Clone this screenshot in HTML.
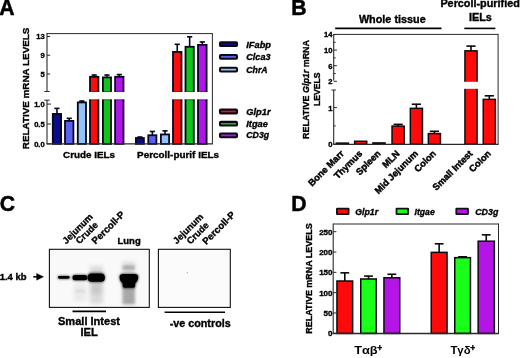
<!DOCTYPE html>
<html><head><meta charset="utf-8"><title>Figure</title>
<style>html,body{margin:0;padding:0;background:#fff;overflow:hidden}svg{display:block;filter:blur(0.3px);font-family:"Liberation Sans",Arial,sans-serif}</style>
</head><body>
<svg width="520" height="358" viewBox="0 0 520 358">
<rect width="520" height="358" fill="#fff"/>
<text x="-0.7" y="14.9" font-size="21.2" text-anchor="start" fill="#000" font-weight="bold" stroke="#000" stroke-width="0.5" >A</text>
<text x="28.7" y="149.2" font-size="9.85" text-anchor="start" fill="#000" font-weight="bold" textLength="121.6" lengthAdjust="spacingAndGlyphs" transform="rotate(-90 28.7 149.2)" stroke="#000" stroke-width="0.35" >RELATIVE mRNA LEVELS</text>
<line x1="56.95" y1="108.08000000000001" x2="56.95" y2="114.055" stroke="#07071c" stroke-width="1.6" stroke-linecap="butt"/>
<line x1="54.35" y1="108.38000000000001" x2="59.550000000000004" y2="108.38000000000001" stroke="#07071c" stroke-width="1.6" stroke-linecap="butt"/>
<rect x="52.8" y="113.95500000000001" width="8.3" height="29.945" fill="#0c0c88" stroke="#07071c" stroke-width="1.8" rx="0" />
<line x1="69.19999999999999" y1="118.03" x2="69.19999999999999" y2="121.02000000000001" stroke="#07071c" stroke-width="1.6" stroke-linecap="butt"/>
<line x1="66.6" y1="118.33" x2="71.79999999999998" y2="118.33" stroke="#07071c" stroke-width="1.6" stroke-linecap="butt"/>
<rect x="65.0" y="120.92000000000002" width="8.400000000000002" height="22.979999999999997" fill="#5c60ee" stroke="#07071c" stroke-width="1.8" rx="0" />
<line x1="81.9" y1="100.71700000000001" x2="81.9" y2="102.513" stroke="#07071c" stroke-width="1.6" stroke-linecap="butt"/>
<line x1="79.30000000000001" y1="101.01700000000001" x2="84.5" y2="101.01700000000001" stroke="#07071c" stroke-width="1.6" stroke-linecap="butt"/>
<rect x="77.80000000000001" y="102.41300000000001" width="8.2" height="41.487" fill="#94c2f8" stroke="#07071c" stroke-width="1.8" rx="0" />
<line x1="94.19999999999999" y1="74.7235" x2="94.19999999999999" y2="76.89600000000002" stroke="#07071c" stroke-width="1.6" stroke-linecap="butt"/>
<line x1="91.6" y1="75.0235" x2="96.79999999999998" y2="75.0235" stroke="#07071c" stroke-width="1.6" stroke-linecap="butt"/>
<rect x="90.0" y="76.79600000000002" width="8.400000000000002" height="67.10399999999998" fill="#fa0d0d" stroke="#07071c" stroke-width="1.8" rx="0" />
<line x1="106.95" y1="74.7235" x2="106.95" y2="77.50570000000002" stroke="#07071c" stroke-width="1.6" stroke-linecap="butt"/>
<line x1="104.35000000000001" y1="75.0235" x2="109.55" y2="75.0235" stroke="#07071c" stroke-width="1.6" stroke-linecap="butt"/>
<rect x="102.9" y="77.40570000000002" width="8.100000000000005" height="66.49429999999998" fill="#10c41a" stroke="#07071c" stroke-width="1.8" rx="0" />
<line x1="119.30000000000001" y1="74.25450000000001" x2="119.30000000000001" y2="76.89600000000002" stroke="#07071c" stroke-width="1.6" stroke-linecap="butt"/>
<line x1="116.70000000000002" y1="74.5545" x2="121.9" y2="74.5545" stroke="#07071c" stroke-width="1.6" stroke-linecap="butt"/>
<rect x="115.10000000000001" y="76.79600000000002" width="8.400000000000002" height="67.10399999999998" fill="#ae16e8" stroke="#07071c" stroke-width="1.8" rx="0" />
<line x1="139.9" y1="136.73600000000002" x2="139.9" y2="138.13400000000001" stroke="#07071c" stroke-width="1.6" stroke-linecap="butt"/>
<line x1="137.3" y1="137.03600000000003" x2="142.5" y2="137.03600000000003" stroke="#07071c" stroke-width="1.6" stroke-linecap="butt"/>
<rect x="135.9" y="138.03400000000002" width="8.00000000000001" height="5.865999999999991" fill="#0c0c88" stroke="#07071c" stroke-width="1.8" rx="0" />
<line x1="152.35000000000002" y1="131.16400000000002" x2="152.35000000000002" y2="135.348" stroke="#07071c" stroke-width="1.6" stroke-linecap="butt"/>
<line x1="149.75000000000003" y1="131.46400000000003" x2="154.95000000000002" y2="131.46400000000003" stroke="#07071c" stroke-width="1.6" stroke-linecap="butt"/>
<rect x="148.3" y="135.24800000000002" width="8.100000000000005" height="8.651999999999992" fill="#5c60ee" stroke="#07071c" stroke-width="1.8" rx="0" />
<line x1="165.0" y1="130.567" x2="165.0" y2="134.55200000000002" stroke="#07071c" stroke-width="1.6" stroke-linecap="butt"/>
<line x1="162.4" y1="130.86700000000002" x2="167.6" y2="130.86700000000002" stroke="#07071c" stroke-width="1.6" stroke-linecap="butt"/>
<rect x="160.9" y="134.45200000000003" width="8.2" height="9.447999999999984" fill="#94c2f8" stroke="#07071c" stroke-width="1.8" rx="0" />
<line x1="177.25" y1="44.004" x2="177.25" y2="52.039" stroke="#07071c" stroke-width="1.6" stroke-linecap="butt"/>
<line x1="174.65" y1="44.303999999999995" x2="179.85" y2="44.303999999999995" stroke="#07071c" stroke-width="1.6" stroke-linecap="butt"/>
<rect x="173.0" y="51.939" width="8.50000000000001" height="91.961" fill="#fa0d0d" stroke="#07071c" stroke-width="1.8" rx="0" />
<line x1="189.64999999999998" y1="36.5" x2="189.64999999999998" y2="46.88" stroke="#07071c" stroke-width="1.6" stroke-linecap="butt"/>
<line x1="187.04999999999998" y1="36.8" x2="192.24999999999997" y2="36.8" stroke="#07071c" stroke-width="1.6" stroke-linecap="butt"/>
<rect x="185.5" y="46.78" width="8.299999999999994" height="97.12" fill="#10c41a" stroke="#07071c" stroke-width="1.8" rx="0" />
<line x1="202.3" y1="41.659" x2="202.3" y2="45.004" stroke="#07071c" stroke-width="1.6" stroke-linecap="butt"/>
<line x1="199.70000000000002" y1="41.958999999999996" x2="204.9" y2="41.958999999999996" stroke="#07071c" stroke-width="1.6" stroke-linecap="butt"/>
<rect x="198.0" y="44.903999999999996" width="8.600000000000005" height="98.99600000000001" fill="#ae16e8" stroke="#07071c" stroke-width="1.8" rx="0" />
<rect x="50" y="91.8" width="161.5" height="7.7" fill="#fff" stroke="none" stroke-width="0" rx="0" />
<line x1="89.1" y1="91.5" x2="99.3" y2="91.5" stroke="#07071c" stroke-width="0.7" opacity="0.7"/>
<line x1="89.1" y1="99.8" x2="99.3" y2="99.8" stroke="#07071c" stroke-width="0.7" opacity="0.7"/>
<line x1="102" y1="91.5" x2="111.9" y2="91.5" stroke="#07071c" stroke-width="0.7" opacity="0.7"/>
<line x1="102" y1="99.8" x2="111.9" y2="99.8" stroke="#07071c" stroke-width="0.7" opacity="0.7"/>
<line x1="114.2" y1="91.5" x2="124.4" y2="91.5" stroke="#07071c" stroke-width="0.7" opacity="0.7"/>
<line x1="114.2" y1="99.8" x2="124.4" y2="99.8" stroke="#07071c" stroke-width="0.7" opacity="0.7"/>
<line x1="172.1" y1="91.5" x2="182.4" y2="91.5" stroke="#07071c" stroke-width="0.7" opacity="0.7"/>
<line x1="172.1" y1="99.8" x2="182.4" y2="99.8" stroke="#07071c" stroke-width="0.7" opacity="0.7"/>
<line x1="184.6" y1="91.5" x2="194.7" y2="91.5" stroke="#07071c" stroke-width="0.7" opacity="0.7"/>
<line x1="184.6" y1="99.8" x2="194.7" y2="99.8" stroke="#07071c" stroke-width="0.7" opacity="0.7"/>
<line x1="197.1" y1="91.5" x2="207.5" y2="91.5" stroke="#07071c" stroke-width="0.7" opacity="0.7"/>
<line x1="197.1" y1="99.8" x2="207.5" y2="99.8" stroke="#07071c" stroke-width="0.7" opacity="0.7"/>
<line x1="47.0" y1="33.6" x2="212.4" y2="33.6" stroke="#2a2a2a" stroke-width="1" stroke-linecap="butt"/>
<line x1="212.4" y1="33.1" x2="212.4" y2="143.9" stroke="#2a2a2a" stroke-width="1" stroke-linecap="butt"/>
<line x1="47.0" y1="33.1" x2="47.0" y2="91.5" stroke="#2a2a2a" stroke-width="1.1" stroke-linecap="butt"/>
<line x1="47.0" y1="100.1" x2="47.0" y2="143.9" stroke="#2a2a2a" stroke-width="1.1" stroke-linecap="butt"/>
<line x1="46.5" y1="143.9" x2="212.9" y2="143.9" stroke="#2a2a2a" stroke-width="1.2" stroke-linecap="butt"/>
<line x1="47.0" y1="36.5" x2="50.2" y2="36.5" stroke="#2a2a2a" stroke-width="1" stroke-linecap="butt"/>
<text x="44.7" y="39.2" font-size="7.6" text-anchor="end" fill="#000" font-weight="bold" stroke="#000" stroke-width="0.35" >13</text>
<line x1="47.0" y1="55.260000000000005" x2="50.2" y2="55.260000000000005" stroke="#2a2a2a" stroke-width="1" stroke-linecap="butt"/>
<text x="44.7" y="57.96000000000001" font-size="7.6" text-anchor="end" fill="#000" font-weight="bold" stroke="#000" stroke-width="0.35" >9</text>
<line x1="47.0" y1="74.02000000000001" x2="50.2" y2="74.02000000000001" stroke="#2a2a2a" stroke-width="1" stroke-linecap="butt"/>
<text x="44.7" y="76.72000000000001" font-size="7.6" text-anchor="end" fill="#000" font-weight="bold" stroke="#000" stroke-width="0.35" >5</text>
<line x1="44.3" y1="91.5" x2="49.7" y2="91.5" stroke="#2a2a2a" stroke-width="1" stroke-linecap="butt"/>
<line x1="44.3" y1="100.2" x2="49.7" y2="100.2" stroke="#2a2a2a" stroke-width="1" stroke-linecap="butt"/>
<line x1="47.0" y1="104.10000000000001" x2="51.0" y2="104.10000000000001" stroke="#2a2a2a" stroke-width="1" stroke-linecap="butt"/>
<text x="44.7" y="106.7" font-size="7.6" text-anchor="end" fill="#000" font-weight="bold" stroke="#000" stroke-width="0.35" >1.0</text>
<line x1="47.0" y1="124.0" x2="51.0" y2="124.0" stroke="#2a2a2a" stroke-width="1" stroke-linecap="butt"/>
<text x="44.7" y="126.6" font-size="7.6" text-anchor="end" fill="#000" font-weight="bold" stroke="#000" stroke-width="0.35" >0.5</text>
<line x1="47.0" y1="143.9" x2="51.0" y2="143.9" stroke="#2a2a2a" stroke-width="1" stroke-linecap="butt"/>
<text x="44.7" y="146.5" font-size="7.6" text-anchor="end" fill="#000" font-weight="bold" stroke="#000" stroke-width="0.35" >0.0</text>
<text x="63.1" y="158" font-size="9.7" text-anchor="start" fill="#000" font-weight="bold" textLength="52" lengthAdjust="spacingAndGlyphs" stroke="#000" stroke-width="0.35" >Crude IELs</text>
<text x="137.1" y="157.9" font-size="9.7" text-anchor="start" fill="#000" font-weight="bold" textLength="82" lengthAdjust="spacingAndGlyphs" stroke="#000" stroke-width="0.35" >Percoll-purif IELs</text>
<rect x="220" y="42.35" width="17" height="3.7" fill="#0c0c88" stroke="#0a0a14" stroke-width="2.1" rx="0.9" />
<text x="246.3" y="47.7" font-size="9" text-anchor="start" fill="#000" font-weight="bold" font-style="italic" textLength="24.6" lengthAdjust="spacingAndGlyphs" stroke="#000" stroke-width="0.35" >IFabp</text>
<rect x="220" y="55.05" width="17" height="3.7" fill="#5c60ee" stroke="#0a0a14" stroke-width="2.1" rx="0.9" />
<text x="246.3" y="60.2" font-size="9" text-anchor="start" fill="#000" font-weight="bold" font-style="italic" textLength="24.2" lengthAdjust="spacingAndGlyphs" stroke="#000" stroke-width="0.35" >Clca3</text>
<rect x="220" y="67.75" width="17" height="3.7" fill="#94c2f8" stroke="#0a0a14" stroke-width="2.1" rx="0.9" />
<text x="246.3" y="72.9" font-size="9" text-anchor="start" fill="#000" font-weight="bold" font-style="italic" textLength="21.4" lengthAdjust="spacingAndGlyphs" stroke="#000" stroke-width="0.35" >ChrA</text>
<rect x="220" y="109.65" width="17" height="3.7" fill="#fa0d0d" stroke="#0a0a14" stroke-width="2.1" rx="0.9" />
<text x="246.3" y="115.1" font-size="9" text-anchor="start" fill="#000" font-weight="bold" font-style="italic" textLength="24.2" lengthAdjust="spacingAndGlyphs" stroke="#000" stroke-width="0.35" >Glp1r</text>
<rect x="220" y="121.85000000000001" width="17" height="3.7" fill="#10c41a" stroke="#0a0a14" stroke-width="2.1" rx="0.9" />
<text x="246.3" y="127" font-size="9" text-anchor="start" fill="#000" font-weight="bold" font-style="italic" textLength="21.6" lengthAdjust="spacingAndGlyphs" stroke="#000" stroke-width="0.35" >Itgae</text>
<rect x="220" y="133.55" width="17" height="3.7" fill="#ae16e8" stroke="#0a0a14" stroke-width="2.1" rx="0.9" />
<text x="246.3" y="138.4" font-size="9" text-anchor="start" fill="#000" font-weight="bold" font-style="italic" textLength="22.8" lengthAdjust="spacingAndGlyphs" stroke="#000" stroke-width="0.35" >CD3g</text>
<text x="291.3" y="14.7" font-size="21.2" text-anchor="start" fill="#000" font-weight="bold" stroke="#000" stroke-width="0.5" >B</text>
<text x="358.9" y="22.6" font-size="10.4" text-anchor="start" fill="#000" font-weight="bold" textLength="66.8" lengthAdjust="spacingAndGlyphs" stroke="#000" stroke-width="0.35" >Whole tissue</text>
<text x="440.4" y="7.3" font-size="10.4" text-anchor="start" fill="#000" font-weight="bold" textLength="79.4" lengthAdjust="spacingAndGlyphs" stroke="#000" stroke-width="0.35" >Percoll-purified</text>
<text x="469" y="21" font-size="10.4" text-anchor="start" fill="#000" font-weight="bold" textLength="22.9" lengthAdjust="spacingAndGlyphs" stroke="#000" stroke-width="0.35" >IELs</text>
<line x1="335.2" y1="28.4" x2="441.5" y2="28.4" stroke="#000" stroke-width="1.6" stroke-linecap="butt"/>
<line x1="464.3" y1="28.4" x2="495.4" y2="28.4" stroke="#000" stroke-width="1.6" stroke-linecap="butt"/>
<text x="309.5" y="138.9" font-size="9.1" text-anchor="start" fill="#000" font-weight="bold" textLength="98.9" lengthAdjust="spacingAndGlyphs" transform="rotate(-90 309.5 138.9)" stroke="#000" stroke-width="0.35" >RELATIVE <tspan font-style="italic">Glp1r</tspan> mRNA</text>
<text x="320.1" y="106.1" font-size="9.1" text-anchor="start" fill="#000" font-weight="bold" textLength="33.5" lengthAdjust="spacingAndGlyphs" transform="rotate(-90 320.1 106.1)" stroke="#000" stroke-width="0.35" >LEVELS</text>
<rect x="336.32500000000005" y="143.09499999999997" width="12.150000000000023" height="1.1050000000000408" fill="#ff0a0a" stroke="#0a0a0a" stroke-width="1.45" rx="0" />
<rect x="354.625" y="141.265" width="12.150000000000023" height="2.935000000000025" fill="#ff0a0a" stroke="#0a0a0a" stroke-width="1.45" rx="0" />
<rect x="372.925" y="142.91199999999998" width="12.150000000000023" height="1.2880000000000336" fill="#ff0a0a" stroke="#0a0a0a" stroke-width="1.45" rx="0" />
<line x1="398.1" y1="124.07" x2="398.1" y2="126.35099999999998" stroke="#0a0a0a" stroke-width="1.6" stroke-linecap="butt"/>
<line x1="393.5" y1="124.36999999999999" x2="402.70000000000005" y2="124.36999999999999" stroke="#0a0a0a" stroke-width="1.6" stroke-linecap="butt"/>
<rect x="392.02500000000003" y="126.07599999999998" width="12.150000000000023" height="18.12400000000003" fill="#ff0a0a" stroke="#0a0a0a" stroke-width="1.45" rx="0" />
<line x1="416.40000000000003" y1="103.93999999999998" x2="416.40000000000003" y2="108.6" stroke="#0a0a0a" stroke-width="1.6" stroke-linecap="butt"/>
<line x1="411.8" y1="104.23999999999998" x2="421.00000000000006" y2="104.23999999999998" stroke="#0a0a0a" stroke-width="1.6" stroke-linecap="butt"/>
<rect x="410.32500000000005" y="108.32499999999999" width="12.150000000000023" height="35.87500000000002" fill="#ff0a0a" stroke="#0a0a0a" stroke-width="1.45" rx="0" />
<line x1="434.40000000000003" y1="131.024" x2="434.40000000000003" y2="133.85399999999998" stroke="#0a0a0a" stroke-width="1.6" stroke-linecap="butt"/>
<line x1="429.8" y1="131.324" x2="439.00000000000006" y2="131.324" stroke="#0a0a0a" stroke-width="1.6" stroke-linecap="butt"/>
<rect x="428.32500000000005" y="133.57899999999998" width="12.150000000000023" height="10.621000000000032" fill="#ff0a0a" stroke="#0a0a0a" stroke-width="1.45" rx="0" />
<line x1="471.0" y1="45.81" x2="471.0" y2="51.1" stroke="#0a0a0a" stroke-width="1.6" stroke-linecap="butt"/>
<line x1="466.4" y1="46.11" x2="475.6" y2="46.11" stroke="#0a0a0a" stroke-width="1.6" stroke-linecap="butt"/>
<rect x="464.925" y="50.825" width="12.150000000000023" height="93.37500000000003" fill="#ff0a0a" stroke="#0a0a0a" stroke-width="1.45" rx="0" />
<line x1="489.3" y1="95.52199999999999" x2="489.3" y2="99.63299999999998" stroke="#0a0a0a" stroke-width="1.6" stroke-linecap="butt"/>
<line x1="484.7" y1="95.82199999999999" x2="493.90000000000003" y2="95.82199999999999" stroke="#0a0a0a" stroke-width="1.6" stroke-linecap="butt"/>
<rect x="483.225" y="99.35799999999998" width="12.150000000000023" height="44.842000000000034" fill="#ff0a0a" stroke="#0a0a0a" stroke-width="1.45" rx="0" />
<rect x="460" y="81.8" width="24" height="7" fill="#fff" stroke="none" stroke-width="0" rx="0" />
<line x1="333.7" y1="34.4" x2="498.1" y2="34.4" stroke="#2a2a2a" stroke-width="1" stroke-linecap="butt"/>
<line x1="498.1" y1="33.9" x2="498.1" y2="144.3" stroke="#2a2a2a" stroke-width="1" stroke-linecap="butt"/>
<line x1="333.7" y1="33.9" x2="333.7" y2="80.4" stroke="#2a2a2a" stroke-width="1.1" stroke-linecap="butt"/>
<line x1="333.7" y1="90" x2="333.7" y2="144.3" stroke="#2a2a2a" stroke-width="1.1" stroke-linecap="butt"/>
<line x1="333.2" y1="144.3" x2="498.6" y2="144.3" stroke="#2a2a2a" stroke-width="1.3" stroke-linecap="butt"/>
<line x1="333.7" y1="34.5" x2="336.9" y2="34.5" stroke="#2a2a2a" stroke-width="1" stroke-linecap="butt"/>
<text x="332.5" y="37.4" font-size="7.6" text-anchor="end" fill="#000" font-weight="bold" stroke="#000" stroke-width="0.35" >14</text>
<line x1="333.7" y1="50.1" x2="336.9" y2="50.1" stroke="#2a2a2a" stroke-width="1" stroke-linecap="butt"/>
<text x="332.5" y="53.0" font-size="7.6" text-anchor="end" fill="#000" font-weight="bold" stroke="#000" stroke-width="0.35" >10</text>
<line x1="333.7" y1="65.7" x2="336.9" y2="65.7" stroke="#2a2a2a" stroke-width="1" stroke-linecap="butt"/>
<text x="332.5" y="68.60000000000001" font-size="7.6" text-anchor="end" fill="#000" font-weight="bold" stroke="#000" stroke-width="0.35" >6</text>
<line x1="333.7" y1="81.3" x2="336.9" y2="81.3" stroke="#2a2a2a" stroke-width="1" stroke-linecap="butt"/>
<text x="332.5" y="84.2" font-size="7.6" text-anchor="end" fill="#000" font-weight="bold" stroke="#000" stroke-width="0.35" >2</text>
<line x1="333.7" y1="42.3" x2="335.7" y2="42.3" stroke="#2a2a2a" stroke-width="1" stroke-linecap="butt"/>
<line x1="333.7" y1="57.9" x2="335.7" y2="57.9" stroke="#2a2a2a" stroke-width="1" stroke-linecap="butt"/>
<line x1="333.7" y1="73.5" x2="335.7" y2="73.5" stroke="#2a2a2a" stroke-width="1" stroke-linecap="butt"/>
<line x1="331.5" y1="90" x2="335.9" y2="90" stroke="#2a2a2a" stroke-width="1" stroke-linecap="butt"/>
<line x1="333.7" y1="125.89999999999999" x2="335.7" y2="125.89999999999999" stroke="#2a2a2a" stroke-width="1" stroke-linecap="butt"/>
<line x1="333.7" y1="107.6" x2="336.9" y2="107.6" stroke="#2a2a2a" stroke-width="1" stroke-linecap="butt"/>
<text x="332.5" y="110.5" font-size="7.6" text-anchor="end" fill="#000" font-weight="bold" stroke="#000" stroke-width="0.35" >1</text>
<line x1="333.7" y1="144.2" x2="336.9" y2="144.2" stroke="#2a2a2a" stroke-width="1" stroke-linecap="butt"/>
<text x="332.5" y="147.1" font-size="7.6" text-anchor="end" fill="#000" font-weight="bold" stroke="#000" stroke-width="0.35" >0</text>
<text x="344.6" y="154.2" font-size="9.3" text-anchor="end" fill="#000" font-weight="bold" transform="rotate(-45 344.6 154.2)" stroke="#000" stroke-width="0.45" >Bone Marr</text>
<text x="362.9" y="154.2" font-size="9.3" text-anchor="end" fill="#000" font-weight="bold" transform="rotate(-45 362.9 154.2)" stroke="#000" stroke-width="0.45" >Thymus</text>
<text x="381.2" y="154.2" font-size="9.3" text-anchor="end" fill="#000" font-weight="bold" transform="rotate(-45 381.2 154.2)" stroke="#000" stroke-width="0.45" >Spleen</text>
<text x="400.3" y="154.2" font-size="9.3" text-anchor="end" fill="#000" font-weight="bold" transform="rotate(-45 400.3 154.2)" stroke="#000" stroke-width="0.45" >MLN</text>
<text x="418.6" y="154.2" font-size="9.3" text-anchor="end" fill="#000" font-weight="bold" transform="rotate(-45 418.6 154.2)" stroke="#000" stroke-width="0.45" >Mid Jejunum</text>
<text x="436.6" y="154.2" font-size="9.3" text-anchor="end" fill="#000" font-weight="bold" transform="rotate(-45 436.6 154.2)" stroke="#000" stroke-width="0.45" >Colon</text>
<text x="473.2" y="154.2" font-size="9.3" text-anchor="end" fill="#000" font-weight="bold" transform="rotate(-45 473.2 154.2)" stroke="#000" stroke-width="0.45" >Small Intest</text>
<text x="491.5" y="154.2" font-size="9.3" text-anchor="end" fill="#000" font-weight="bold" transform="rotate(-45 491.5 154.2)" stroke="#000" stroke-width="0.45" >Colon</text>
<text x="-0.2" y="210.6" font-size="21.2" text-anchor="start" fill="#000" font-weight="bold" stroke="#000" stroke-width="0.5" >C</text>
<text x="-0.3" y="279.5" font-size="8.3" text-anchor="start" fill="#000" font-weight="bold" textLength="26.8" lengthAdjust="spacingAndGlyphs" stroke="#000" stroke-width="0.35" >1.4 kb</text>
<line x1="33.2" y1="276.8" x2="38.5" y2="276.8" stroke="#000" stroke-width="1.5" stroke-linecap="butt"/>
<path d="M36.6 273.4 L43.6 276.8 L36.6 280.2 Z" fill="#000" stroke="#000" stroke-width="0.4" stroke-linejoin="round"/>
<defs><filter id="b1" x="-50%" y="-50%" width="200%" height="200%"><feGaussianBlur stdDeviation="1.0"/></filter><filter id="b2" x="-50%" y="-50%" width="200%" height="200%"><feGaussianBlur stdDeviation="2.0"/></filter><filter id="b3" x="-50%" y="-50%" width="200%" height="200%"><feGaussianBlur stdDeviation="0.55"/></filter><clipPath id="c1"><rect x="49.9" y="249.8" width="98.9" height="57.2"/></clipPath></defs>
<rect x="49.4" y="249.3" width="99.9" height="58.1" fill="#f9f9f9" stroke="#111" stroke-width="1.1" rx="0" />
<g clip-path="url(#c1)">
<rect x="74" y="283" width="12" height="18" fill="#000" opacity="0.06" filter="url(#b2)"/>
<rect x="75" y="290" width="11" height="2.4" fill="#000" opacity="0.07" filter="url(#b1)"/>
<rect x="90" y="266" width="13" height="38" fill="#000" opacity="0.12" filter="url(#b2)"/>
<rect x="91" y="284" width="11" height="10" fill="#000" opacity="0.08" filter="url(#b2)"/>
<rect x="122.5" y="262" width="12.5" height="44" fill="#000" opacity="0.13" filter="url(#b2)"/>
<rect x="122.5" y="287" width="12.5" height="17" fill="#000" opacity="0.22" filter="url(#b1)"/>
<rect x="122.5" y="265.6" width="12.5" height="4" fill="#000" opacity="0.2" filter="url(#b1)"/>
<rect x="57.5" y="275.4" width="12.6" height="3.9" rx="1.9" fill="#000" opacity="0.55" filter="url(#b1)"/>
<rect x="72" y="274.4" width="15.6" height="6.4" rx="3" fill="#000" opacity="0.6" filter="url(#b1)"/>
<rect x="87" y="272.6" width="18.4" height="10" rx="4.5" fill="#000" opacity="0.6" filter="url(#b1)"/>
<path d="M119 277 Q119 273.4 123 273.4 L134.6 273.4 Q138.8 273.4 138.8 277 Q138.8 281 136 283.5 L135.6 287 Q135.3 288.6 133 288.6 L125 288.6 Q122.5 288.6 122.2 287 L121.8 283.5 Q119 281 119 277 Z" fill="#000" opacity="0.6" filter="url(#b1)"/>
<rect x="58" y="275.95" width="11.6" height="2.8" rx="1.4" fill="#000" filter="url(#b3)"/>
<rect x="72.5" y="275.1" width="14.8" height="5.1" rx="2.5" fill="#000" filter="url(#b3)"/>
<rect x="87.6" y="273.5" width="17.3" height="8.3" rx="4" fill="#000" filter="url(#b3)"/>
<path d="M119.6 277 Q119.6 274 123 274 L134.6 274 Q138.2 274 138.2 277 Q138.2 281 135.4 283 L135 286.4 Q134.7 287.7 133 287.7 L125 287.7 Q123.1 287.7 122.8 286.4 L122.4 283 Q119.6 281 119.6 277 Z" fill="#000" filter="url(#b3)"/>
</g>
<rect x="158.4" y="249.3" width="71.9" height="58.1" fill="#fbfbfb" stroke="#111" stroke-width="1.1" rx="0" />
<circle cx="187.3" cy="272.6" r="0.8" fill="#888" opacity="0.6"/>
<line x1="72.5" y1="311.4" x2="106" y2="311.4" stroke="#000" stroke-width="1.6" stroke-linecap="butt"/>
<line x1="164.6" y1="312.2" x2="225" y2="312.2" stroke="#000" stroke-width="1.6" stroke-linecap="butt"/>
<text x="58" y="325.4" font-size="10.7" text-anchor="start" fill="#000" font-weight="bold" textLength="62" lengthAdjust="spacingAndGlyphs" stroke="#000" stroke-width="0.35" >Small Intest</text>
<text x="80.4" y="336.3" font-size="10.7" text-anchor="start" fill="#000" font-weight="bold" textLength="17.4" lengthAdjust="spacingAndGlyphs" stroke="#000" stroke-width="0.35" >IEL</text>
<text x="169.7" y="326.5" font-size="10.6" text-anchor="start" fill="#000" font-weight="bold" textLength="61" lengthAdjust="spacingAndGlyphs" stroke="#000" stroke-width="0.35" >-ve controls</text>
<text x="117.5" y="244.3" font-size="9.2" text-anchor="start" fill="#000" font-weight="bold" textLength="23.2" lengthAdjust="spacingAndGlyphs" stroke="#000" stroke-width="0.35" >Lung</text>
<text x="66.3" y="244.4" font-size="9.3" text-anchor="start" fill="#000" font-weight="bold" transform="rotate(-45 66.3 244.4)" stroke="#000" stroke-width="0.35" >Jejunum</text>
<text x="79.6" y="244.6" font-size="9.3" text-anchor="start" fill="#000" font-weight="bold" transform="rotate(-45 79.6 244.6)" stroke="#000" stroke-width="0.35" >Crude</text>
<text x="95.6" y="244.8" font-size="9.7" text-anchor="start" fill="#000" font-weight="bold" transform="rotate(-45 95.6 244.8)" stroke="#000" stroke-width="0.35" >Percoll-P</text>
<text x="176.8" y="244.4" font-size="9.3" text-anchor="start" fill="#000" font-weight="bold" transform="rotate(-45 176.8 244.4)" stroke="#000" stroke-width="0.35" >Jejunum</text>
<text x="190.5" y="244.8" font-size="9.3" text-anchor="start" fill="#000" font-weight="bold" transform="rotate(-45 190.5 244.8)" stroke="#000" stroke-width="0.35" >Crude</text>
<text x="206.2" y="245.2" font-size="9.7" text-anchor="start" fill="#000" font-weight="bold" transform="rotate(-45 206.2 245.2)" stroke="#000" stroke-width="0.35" >Percoll-P</text>
<text x="291.3" y="210.6" font-size="21.2" text-anchor="start" fill="#000" font-weight="bold" stroke="#000" stroke-width="0.5" >D</text>
<rect x="336.9" y="208.6" width="11.7" height="5.5" fill="#ff0a0a" stroke="#111" stroke-width="1.8" rx="0.3" />
<text x="355.2" y="214.6" font-size="9.2" text-anchor="start" fill="#000" font-weight="bold" font-style="italic" textLength="22.9" lengthAdjust="spacingAndGlyphs" stroke="#000" stroke-width="0.35" >Glp1r</text>
<rect x="396.5" y="208.6" width="11.7" height="5.5" fill="#1aff1a" stroke="#111" stroke-width="1.8" rx="0.3" />
<text x="414.6" y="214.6" font-size="9.2" text-anchor="start" fill="#000" font-weight="bold" font-style="italic" textLength="20.1" lengthAdjust="spacingAndGlyphs" stroke="#000" stroke-width="0.35" >Itgae</text>
<rect x="456.29999999999995" y="208.6" width="11.7" height="5.5" fill="#b414e6" stroke="#111" stroke-width="1.8" rx="0.3" />
<text x="475.2" y="214.6" font-size="9.2" text-anchor="start" fill="#000" font-weight="bold" font-style="italic" textLength="23.1" lengthAdjust="spacingAndGlyphs" stroke="#000" stroke-width="0.35" >CD3g</text>
<line x1="344.79999999999995" y1="272.5432" x2="344.79999999999995" y2="281.26480000000004" stroke="#0a0a0a" stroke-width="1.6" stroke-linecap="butt"/>
<line x1="340.4" y1="272.8432" x2="349.19999999999993" y2="272.8432" stroke="#0a0a0a" stroke-width="1.6" stroke-linecap="butt"/>
<rect x="336.95" y="281.01480000000004" width="15.699999999999989" height="52.38519999999994" fill="#ff0a0a" stroke="#0a0a0a" stroke-width="1.5" rx="0" />
<line x1="368.5" y1="275.7944" x2="368.5" y2="279.2328" stroke="#0a0a0a" stroke-width="1.6" stroke-linecap="butt"/>
<line x1="364.1" y1="276.0944" x2="372.9" y2="276.0944" stroke="#0a0a0a" stroke-width="1.6" stroke-linecap="butt"/>
<rect x="360.75" y="278.9828" width="15.5" height="54.41719999999998" fill="#1aff1a" stroke="#0a0a0a" stroke-width="1.5" rx="0" />
<line x1="391.85" y1="273.9656" x2="391.85" y2="278.0136" stroke="#0a0a0a" stroke-width="1.6" stroke-linecap="butt"/>
<line x1="387.45000000000005" y1="274.2656" x2="396.25" y2="274.2656" stroke="#0a0a0a" stroke-width="1.6" stroke-linecap="butt"/>
<rect x="383.95" y="277.7636" width="15.800000000000011" height="55.63639999999998" fill="#b414e6" stroke="#0a0a0a" stroke-width="1.5" rx="0" />
<line x1="439.15" y1="243.48560000000003" x2="439.15" y2="252.61360000000002" stroke="#0a0a0a" stroke-width="1.6" stroke-linecap="butt"/>
<line x1="434.75" y1="243.78560000000004" x2="443.54999999999995" y2="243.78560000000004" stroke="#0a0a0a" stroke-width="1.6" stroke-linecap="butt"/>
<rect x="431.25" y="252.36360000000002" width="15.800000000000011" height="81.03639999999996" fill="#ff0a0a" stroke="#0a0a0a" stroke-width="1.5" rx="0" />
<line x1="462.6" y1="256.4904" x2="462.6" y2="257.8968" stroke="#0a0a0a" stroke-width="1.6" stroke-linecap="butt"/>
<line x1="458.20000000000005" y1="256.79040000000003" x2="467.0" y2="256.79040000000003" stroke="#0a0a0a" stroke-width="1.6" stroke-linecap="butt"/>
<rect x="454.75" y="257.6468" width="15.699999999999989" height="75.75319999999999" fill="#1aff1a" stroke="#0a0a0a" stroke-width="1.5" rx="0" />
<line x1="486.25" y1="234.5448" x2="486.25" y2="241.43760000000003" stroke="#0a0a0a" stroke-width="1.6" stroke-linecap="butt"/>
<line x1="481.85" y1="234.84480000000002" x2="490.65" y2="234.84480000000002" stroke="#0a0a0a" stroke-width="1.6" stroke-linecap="butt"/>
<rect x="478.15" y="241.18760000000003" width="16.200000000000045" height="92.21239999999995" fill="#b414e6" stroke="#0a0a0a" stroke-width="1.5" rx="0" />
<line x1="333.2" y1="224.0" x2="498.5" y2="224.0" stroke="#2a2a2a" stroke-width="1" stroke-linecap="butt"/>
<line x1="498.5" y1="223.5" x2="498.5" y2="333.5" stroke="#2a2a2a" stroke-width="1" stroke-linecap="butt"/>
<line x1="333.2" y1="223.5" x2="333.2" y2="333.5" stroke="#2a2a2a" stroke-width="1.1" stroke-linecap="butt"/>
<line x1="332.7" y1="333.5" x2="499.0" y2="333.5" stroke="#2a2a2a" stroke-width="1.3" stroke-linecap="butt"/>
<line x1="333.2" y1="231.70000000000002" x2="336.4" y2="231.70000000000002" stroke="#2a2a2a" stroke-width="1" stroke-linecap="butt"/>
<text x="332.5" y="234.8" font-size="8" text-anchor="end" fill="#000" font-weight="bold" stroke="#000" stroke-width="0.35" >250</text>
<line x1="333.2" y1="252.02" x2="336.4" y2="252.02" stroke="#2a2a2a" stroke-width="1" stroke-linecap="butt"/>
<text x="332.5" y="255.12" font-size="8" text-anchor="end" fill="#000" font-weight="bold" stroke="#000" stroke-width="0.35" >200</text>
<line x1="333.2" y1="272.34000000000003" x2="336.4" y2="272.34000000000003" stroke="#2a2a2a" stroke-width="1" stroke-linecap="butt"/>
<text x="332.5" y="275.44000000000005" font-size="8" text-anchor="end" fill="#000" font-weight="bold" stroke="#000" stroke-width="0.35" >150</text>
<line x1="333.2" y1="292.66" x2="336.4" y2="292.66" stroke="#2a2a2a" stroke-width="1" stroke-linecap="butt"/>
<text x="332.5" y="295.76000000000005" font-size="8" text-anchor="end" fill="#000" font-weight="bold" stroke="#000" stroke-width="0.35" >100</text>
<line x1="333.2" y1="312.98" x2="336.4" y2="312.98" stroke="#2a2a2a" stroke-width="1" stroke-linecap="butt"/>
<text x="332.5" y="316.08000000000004" font-size="8" text-anchor="end" fill="#000" font-weight="bold" stroke="#000" stroke-width="0.35" >50</text>
<line x1="333.2" y1="333.3" x2="336.4" y2="333.3" stroke="#2a2a2a" stroke-width="1" stroke-linecap="butt"/>
<text x="332.5" y="336.40000000000003" font-size="8" text-anchor="end" fill="#000" font-weight="bold" stroke="#000" stroke-width="0.35" >0</text>
<text x="311.7" y="333.7" font-size="9.3" text-anchor="start" fill="#000" font-weight="bold" textLength="110.4" lengthAdjust="spacingAndGlyphs" transform="rotate(-90 311.7 333.7)" stroke="#000" stroke-width="0.35" >RELATIVE mRNA LEVELS</text>
<text x="354.2" y="354" font-size="11.4" text-anchor="start" fill="#000" font-weight="bold" textLength="23.4" lengthAdjust="spacingAndGlyphs" stroke="#000" stroke-width="0" >T&#945;&#946;</text>
<text x="377.2" y="351.4" font-size="8.2" text-anchor="start" fill="#000" font-weight="bold" textLength="5" lengthAdjust="spacingAndGlyphs" stroke="#000" stroke-width="0.35" >+</text>
<text x="450.4" y="354" font-size="11.4" text-anchor="start" fill="#000" font-weight="bold" textLength="20.2" lengthAdjust="spacingAndGlyphs" stroke="#000" stroke-width="0" >T&#947;&#948;</text>
<text x="470.2" y="351.4" font-size="8.2" text-anchor="start" fill="#000" font-weight="bold" textLength="5" lengthAdjust="spacingAndGlyphs" stroke="#000" stroke-width="0.35" >+</text>
</svg>
</body></html>
